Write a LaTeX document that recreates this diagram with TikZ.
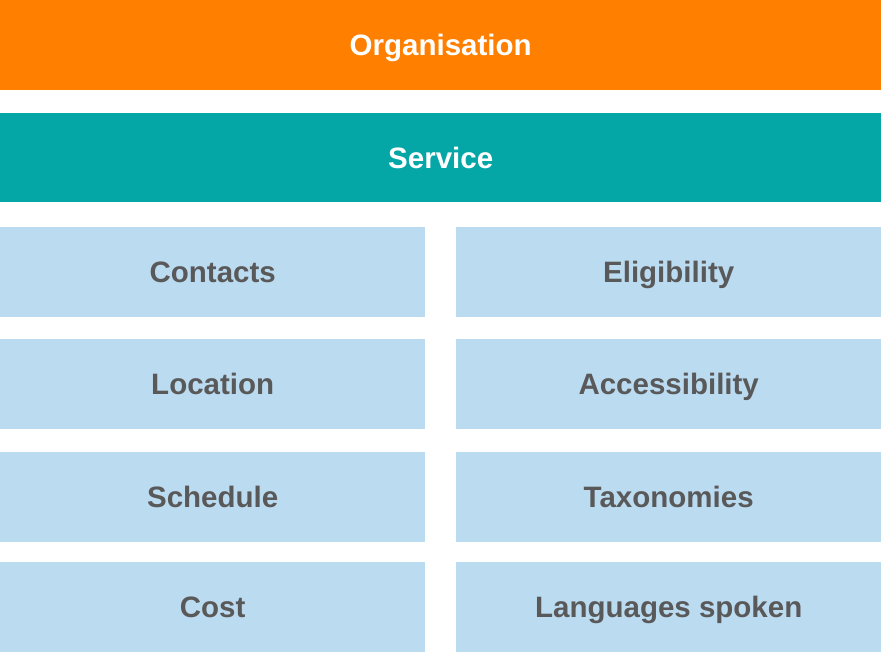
\documentclass[tikz,border=0pt]{standalone}
\usepackage{fontspec}
\setmainfont{Liberation Sans}
\definecolor{orgorange}{RGB}{255,127,0}
\definecolor{servteal}{RGB}{5,166,166}
\definecolor{fieldblue}{RGB}{187,219,241}
\definecolor{fieldtext}{RGB}{89,89,89}
\tikzset{
  band/.style={anchor=north west, inner sep=0pt, minimum width=881pt, minimum height=89pt, text height=21pt, text depth=0pt, text=white, font=\bfseries\fontsize{29.5}{31}\selectfont},
  field/.style={anchor=north west, inner sep=0pt, fill=fieldblue, minimum width=425pt, minimum height=90pt, text height=21pt, text depth=0pt, text=fieldtext, font=\bfseries\fontsize{29.5}{31}\selectfont}
}
\begin{document}
\begin{tikzpicture}[x=1pt,y=1pt,yscale=-1,xscale=1]
    \useasboundingbox (0,0) rectangle (881,652);

    % Bands
    \node [band, fill=orgorange, minimum height=90pt] (org) at (0,0) {Organisation};
    \node [band, fill=servteal] (serv) at (0,113) {Service};

    % Left column
    \node [field] (contacts) at (0,227) {Contacts};
    \node [field] (location) at (0,339) {Location};
    \node [field] (schedule) at (0,452) {Schedule};
    \node [field] (cost) at (0,562) {Cost};

    % Right column
    \node [field] (eligibility) at (456,227) {Eligibility};
    \node [field] (access) at (456,339) {Accessibility};
    \node [field] (taxo) at (456,452) {Taxonomies};
    \node [field] (lang) at (456,562) {Languages spoken};

\end{tikzpicture}
\end{document}
